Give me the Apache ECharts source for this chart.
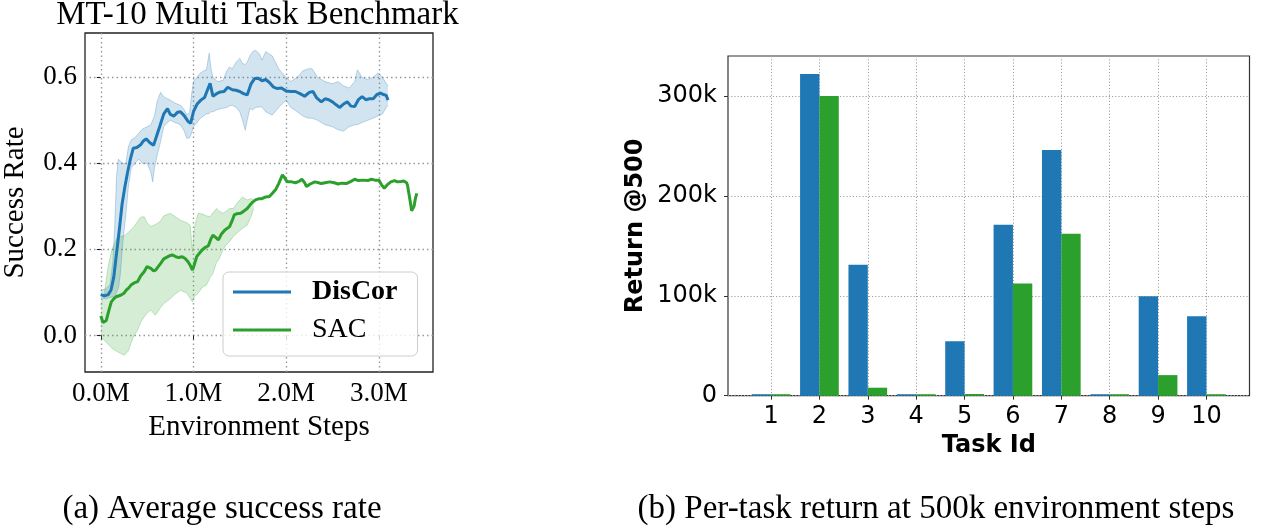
<!DOCTYPE html>
<html>
<head>
<meta charset="utf-8">
<script src="https://cdn.jsdelivr.net/npm/echarts@6/dist/echarts.min.js"></script>
<style>
html,body{margin:0;padding:0;background:#fff;}
#c{width:1262px;height:526px;}
</style>
</head>
<body>
<div id="c"></div>
<script>
// ---------- data (a): success rate vs environment steps (millions) ----------
const discorMean = [
  [0.00,0.095],[0.04,0.092],[0.08,0.095],[0.11,0.105],[0.14,0.135],[0.17,0.19],[0.20,0.245],
  [0.23,0.305],[0.26,0.345],[0.29,0.38],[0.32,0.41],[0.35,0.435],[0.39,0.437],[0.43,0.443],
  [0.46,0.452],[0.49,0.457],[0.53,0.448],[0.57,0.442],[0.60,0.462],[0.64,0.488],[0.68,0.515],
  [0.72,0.527],[0.75,0.514],[0.79,0.51],[0.83,0.519],[0.86,0.52],[0.90,0.511],[0.94,0.498],
  [0.97,0.493],[1.00,0.52],[1.04,0.538],[1.08,0.547],[1.12,0.553],[1.15,0.57],[1.18,0.586],
  [1.21,0.556],[1.25,0.562],[1.29,0.566],[1.33,0.567],[1.37,0.577],[1.42,0.571],[1.46,0.57],
  [1.50,0.567],[1.54,0.562],[1.58,0.559],[1.62,0.584],[1.66,0.597],[1.70,0.598],[1.74,0.592],
  [1.78,0.595],[1.82,0.588],[1.86,0.578],[1.90,0.574],[1.95,0.575],[2.00,0.568],[2.05,0.567],
  [2.10,0.567],[2.15,0.562],[2.20,0.556],[2.25,0.565],[2.29,0.567],[2.33,0.552],[2.38,0.543],
  [2.42,0.55],[2.46,0.548],[2.50,0.543],[2.54,0.536],[2.58,0.53],[2.62,0.538],[2.66,0.543],
  [2.70,0.533],[2.74,0.532],[2.78,0.548],[2.82,0.555],[2.86,0.548],[2.90,0.55],[2.94,0.55],
  [2.98,0.56],[3.02,0.563],[3.05,0.56],[3.08,0.558],[3.10,0.547]
];
// [x, lower, upper]
const discorBand = [
  [0.00,0.088,0.105],[0.05,0.085,0.108],[0.10,0.088,0.118],[0.13,0.09,0.17],[0.15,0.09,0.25],
  [0.17,0.10,0.37],[0.19,0.11,0.41],[0.21,0.14,0.405],[0.24,0.22,0.40],[0.27,0.28,0.40],
  [0.30,0.35,0.44],[0.33,0.39,0.455],[0.37,0.40,0.46],[0.41,0.41,0.47],[0.45,0.40,0.48],
  [0.50,0.40,0.485],[0.54,0.38,0.49],[0.56,0.357,0.50],[0.58,0.39,0.51],[0.61,0.42,0.545],
  [0.645,0.45,0.565],[0.68,0.485,0.555],[0.72,0.495,0.55],[0.75,0.50,0.547],[0.80,0.495,0.54],
  [0.86,0.49,0.535],[0.90,0.475,0.525],[0.93,0.458,0.512],[0.96,0.46,0.52],[0.98,0.47,0.56],
  [1.00,0.485,0.59],[1.04,0.495,0.60],[1.07,0.504,0.609],[1.11,0.51,0.615],[1.14,0.515,0.617],
  [1.17,0.516,0.656],[1.19,0.52,0.62],[1.21,0.52,0.60],[1.26,0.525,0.59],[1.32,0.528,0.593],
  [1.36,0.53,0.615],[1.39,0.534,0.624],[1.42,0.535,0.62],[1.46,0.53,0.635],[1.50,0.52,0.644],
  [1.53,0.50,0.632],[1.56,0.477,0.63],[1.58,0.50,0.635],[1.61,0.528,0.65],[1.64,0.524,0.66],
  [1.67,0.53,0.663],[1.71,0.531,0.655],[1.74,0.531,0.64],[1.78,0.52,0.66],[1.85,0.512,0.65],
  [1.92,0.53,0.62],[2.00,0.547,0.60],[2.05,0.53,0.59],[2.12,0.52,0.60],[2.18,0.51,0.615],
  [2.24,0.505,0.62],[2.28,0.505,0.62],[2.34,0.50,0.60],[2.42,0.49,0.59],[2.50,0.485,0.585],
  [2.56,0.478,0.59],[2.62,0.475,0.58],[2.68,0.485,0.575],[2.74,0.49,0.59],[2.77,0.49,0.617],
  [2.82,0.495,0.60],[2.88,0.50,0.595],[2.94,0.505,0.60],[2.99,0.51,0.61],[3.04,0.515,0.60],
  [3.08,0.53,0.586],[3.10,0.535,0.58]
];
const sacMean = [
  [0.00,0.045],[0.025,0.03],[0.06,0.035],[0.09,0.06],[0.114,0.078],[0.14,0.085],[0.167,0.09],
  [0.22,0.094],[0.25,0.098],[0.273,0.105],[0.30,0.11],[0.326,0.117],[0.36,0.122],[0.397,0.125],
  [0.43,0.138],[0.468,0.148],[0.50,0.16],[0.54,0.156],[0.57,0.15],[0.592,0.152],[0.62,0.16],
  [0.645,0.167],[0.68,0.178],[0.70,0.181],[0.74,0.185],[0.77,0.187],[0.81,0.183],[0.84,0.181],
  [0.88,0.183],[0.91,0.179],[0.94,0.172],[0.965,0.163],[0.99,0.152],[1.01,0.165],[1.035,0.183],
  [1.06,0.19],[1.09,0.198],[1.13,0.205],[1.16,0.208],[1.19,0.225],[1.21,0.233],[1.24,0.228],
  [1.27,0.222],[1.30,0.235],[1.34,0.245],[1.39,0.253],[1.42,0.268],[1.44,0.28],[1.47,0.283],
  [1.51,0.284],[1.55,0.29],[1.58,0.295],[1.61,0.303],[1.64,0.31],[1.67,0.315],[1.71,0.318],
  [1.74,0.318],[1.78,0.322],[1.82,0.323],[1.85,0.33],[1.89,0.34],[1.92,0.353],[1.96,0.373],
  [1.98,0.368],[2.01,0.357],[2.06,0.357],[2.10,0.355],[2.14,0.358],[2.17,0.363],[2.20,0.355],
  [2.22,0.346],[2.26,0.352],[2.31,0.357],[2.35,0.355],[2.38,0.353],[2.42,0.355],[2.47,0.357],
  [2.52,0.355],[2.56,0.352],[2.60,0.354],[2.65,0.353],[2.70,0.358],[2.74,0.363],[2.78,0.36],
  [2.83,0.361],[2.88,0.36],[2.92,0.363],[2.96,0.361],[3.00,0.361],[3.03,0.35],[3.06,0.342],
  [3.09,0.35],[3.13,0.357],[3.17,0.36],[3.20,0.357],[3.24,0.358],[3.27,0.359],[3.30,0.355],
  [3.31,0.349],[3.325,0.33],[3.34,0.31],[3.355,0.29],[3.365,0.287],[3.38,0.30],[3.395,0.318],
  [3.41,0.33]
];
const sacBand = [
  [0.00,-0.003,0.07],[0.04,-0.012,0.10],[0.08,-0.02,0.16],[0.12,-0.03,0.20],[0.18,-0.038,0.228],
  [0.255,-0.046,0.232],[0.30,-0.035,0.24],[0.326,-0.018,0.245],[0.36,0.0,0.253],[0.397,0.012,0.265],
  [0.43,0.03,0.275],[0.468,0.043,0.276],[0.50,0.052,0.262],[0.54,0.059,0.253],[0.59,0.047,0.258],
  [0.64,0.063,0.265],[0.68,0.074,0.278],[0.75,0.085,0.284],[0.79,0.094,0.278],[0.86,0.105,0.268],
  [0.93,0.098,0.262],[0.965,0.086,0.256],[0.99,0.078,0.195],[1.01,0.09,0.25],[1.05,0.098,0.284],
  [1.10,0.113,0.282],[1.14,0.117,0.278],[1.18,0.135,0.276],[1.21,0.144,0.285],[1.25,0.17,0.295],
  [1.27,0.175,0.29],[1.32,0.20,0.284],[1.36,0.212,0.29],[1.39,0.218,0.295],[1.43,0.23,0.295],
  [1.48,0.24,0.31],[1.53,0.249,0.322],[1.58,0.256,0.315],[1.62,0.276,0.318],[1.65,0.295,0.315]
];
const stepTicks = [0, 1, 2, 3];
const rateTicks = [0, 0.2, 0.4, 0.6];

// ---------- data (b): per-task return at 500k steps ----------
const taskIds = [1, 2, 3, 4, 5, 6, 7, 8, 9, 10];
const discorReturn = [1500, 322000, 131000, 1500, 54600, 171200, 246000, 1500, 99600, 79600];
const sacReturn = [1500, 300000, 8000, 1500, 1700, 112200, 162200, 1500, 20600, 1500];
const returnTicks = [0, 100000, 200000, 300000];

// ---------- styling ----------
const BLUE = '#1f77b4', GREEN = '#2ca02c';
const SERIF = 'Liberation Serif';
const SANS = 'DejaVu Sans';

function bandSeries(name, band, edge, fill) {
  return {
    name: name, type: 'custom', xAxisIndex: 0, yAxisIndex: 0, z: 1, silent: true,
    data: band, encode: { x: 0, y: [1, 2] },
    renderItem: function (params, api) {
      if (params.dataIndex !== 0) return { type: 'group', children: [] };
      const upper = band.map(d => api.coord([d[0], d[2]]));
      const lower = band.map(d => api.coord([d[0], d[1]]));
      const poly = upper.concat(lower.slice().reverse());
      return { type: 'group', children: [
        { type: 'polygon', shape: { points: poly }, style: { fill: fill, stroke: null } },
        { type: 'polyline', shape: { points: upper }, style: { stroke: edge, lineWidth: 1, fill: null } },
        { type: 'polyline', shape: { points: lower }, style: { stroke: edge, lineWidth: 1, fill: null } }
      ] };
    }
  };
}

function barSeries(name, values, color, offset) {
  return {
    name: name, type: 'custom', xAxisIndex: 1, yAxisIndex: 1, z: 3,
    data: taskIds.map((t, i) => [t, values[i]]),
    encode: { x: 0, y: 1 },
    renderItem: function (params, api) {
      const x = api.value(0), v = api.value(1);
      const a = api.coord([x + offset, v]);
      const b = api.coord([x + offset + 0.4, 0]);
      return { type: 'rect', shape: { x: a[0], y: a[1], width: b[0] - a[0], height: b[1] - a[1] },
               style: { fill: color } };
    }
  };
}

const chart = echarts.init(document.getElementById('c'), null, { renderer: 'canvas' });
const gridDot = { color: '#999999', width: 1.4, type: [1.5, 3] };
const gridDot2 = { color: '#a0a0a0', width: 1, type: [1.2, 2] };

const option = {
  animation: false,
  backgroundColor: '#ffffff',
  graphic: [
    { type: 'text', x: 257.5, y: 15, style: { text: 'MT-10 Multi Task Benchmark', font: '33px "Liberation Serif"', fill: '#000', textAlign: 'center', textVerticalAlign: 'middle' } },
    { type: 'text', x: 222, y: 509, style: { text: '(a) Average success rate', font: '33px "Liberation Serif"', fill: '#000', textAlign: 'center', textVerticalAlign: 'middle' } },
    { type: 'text', x: 936, y: 509, style: { text: '(b) Per-task return at 500k environment steps', font: '33px "Liberation Serif"', fill: '#000', textAlign: 'center', textVerticalAlign: 'middle' } }
  ],
  grid: [
    { left: 80, top: 33, right: 829, bottom: 154, show: true, borderColor: '#222', borderWidth: 1.3, backgroundColor: 'transparent' },
    { left: 728, top: 56, right: 12.5, bottom: 130.3, show: true, borderColor: '#333', borderWidth: 1.2, backgroundColor: 'transparent' }
  ],
  legend: {
    data: ['DisCor', 'SAC'], orient: 'vertical', left: 223, top: 272,
    icon: 'rect', itemWidth: 58, itemHeight: 3, itemGap: 10,
    padding: [6, 20, 12, 10],
    backgroundColor: 'rgba(255,255,255,0.8)', borderColor: '#cccccc', borderWidth: 1, borderRadius: 6,
    selectedMode: false,
    formatter: n => n === 'DisCor' ? '{b|DisCor}' : n,
    textStyle: { fontFamily: SERIF, fontSize: 28, color: '#000', lineHeight: 28, padding: [0, 0, 0, 16],
      rich: { b: { fontFamily: SERIF, fontSize: 28, fontWeight: 'bold', color: '#000', lineHeight: 28 } } }
  },
  xAxis: [
    { type: 'value', gridIndex: 0, min: -0.17, max: 3.585,
      axisLine: { show: false },
      axisTick: { show: true, length: 4, customValues: stepTicks, lineStyle: { color: '#222' } },
      axisLabel: { customValues: stepTicks, formatter: v => v.toFixed(1) + 'M', fontFamily: SERIF, fontSize: 27, color: '#000', margin: 8 },
      splitLine: { show: true, lineStyle: gridDot },
      name: 'Environment Steps', nameLocation: 'middle', nameGap: 41,
      nameTextStyle: { fontFamily: SERIF, fontSize: 29, color: '#000' } },
    { type: 'value', gridIndex: 1, min: 0.11, max: 10.89, splitNumber: 10,
      axisLine: { show: false },
      axisTick: { show: true, length: 4, customValues: taskIds, lineStyle: { color: '#333' } },
      axisLabel: { customValues: taskIds, formatter: v => String(v), fontFamily: SANS, fontSize: 24, color: '#000', margin: 9 },
      splitLine: { show: true, lineStyle: gridDot2 },
      name: 'Task Id', nameLocation: 'middle', nameGap: 38,
      nameTextStyle: { fontFamily: SANS, fontSize: 24, fontWeight: 'bold', color: '#000' } }
  ],
  yAxis: [
    { type: 'value', gridIndex: 0, min: -0.085, max: 0.703, splitNumber: 4,
      axisLine: { show: false },
      axisTick: { show: true, length: 4, customValues: rateTicks, lineStyle: { color: '#222' } },
      axisLabel: { customValues: rateTicks, formatter: v => v.toFixed(1), fontFamily: SERIF, fontSize: 27, color: '#000', margin: 8 },
      splitLine: { show: true, lineStyle: gridDot },
      name: 'Success Rate', nameLocation: 'middle', nameGap: 55, nameRotate: 90,
      nameTextStyle: { fontFamily: SERIF, fontSize: 29, color: '#000' } },
    { type: 'value', gridIndex: 1, min: 0, max: 340000, splitNumber: 3,
      axisLine: { show: false },
      axisTick: { show: true, length: 4, customValues: returnTicks, lineStyle: { color: '#333' } },
      axisLabel: { customValues: returnTicks, formatter: v => v === 0 ? '0' : (v / 1000) + 'k', fontFamily: SANS, fontSize: 24, color: '#000', margin: 11 },
      splitLine: { show: true, lineStyle: gridDot2 },
      name: 'Return @500', nameLocation: 'middle', nameGap: 80, nameRotate: 90,
      nameTextStyle: { fontFamily: SANS, fontSize: 24, fontWeight: 'bold', color: '#000' } }
  ],
  series: [
    bandSeries('DisCor band', discorBand, 'rgba(31,119,180,0.28)', 'rgba(31,119,180,0.2)'),
    bandSeries('SAC band', sacBand, 'rgba(44,160,44,0.25)', 'rgba(44,160,44,0.2)'),
    { name: 'DisCor', type: 'line', xAxisIndex: 0, yAxisIndex: 0, data: discorMean, symbol: 'none', z: 5,
      lineStyle: { width: 3, color: BLUE }, itemStyle: { color: BLUE } },
    { name: 'SAC', type: 'line', xAxisIndex: 0, yAxisIndex: 0, data: sacMean, symbol: 'none', z: 4,
      lineStyle: { width: 3, color: GREEN }, itemStyle: { color: GREEN } },
    barSeries('DisCor return', discorReturn, BLUE, -0.4),
    barSeries('SAC return', sacReturn, GREEN, 0)
  ]
};
chart.setOption(option);
</script>
</body>
</html>
